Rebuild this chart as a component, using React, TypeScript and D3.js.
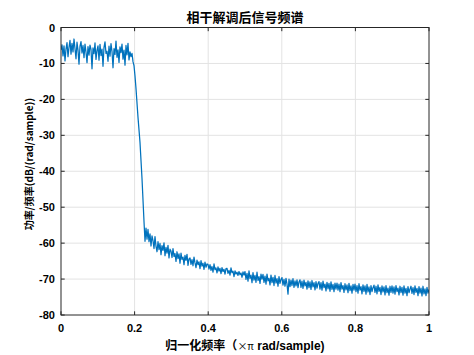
import React from "react";
import * as d3 from "d3";

// ---------- data (dB/(rad/sample)) ----------
const passband: number[] = [
  -6.2, -4.8, -7.9, -5.1, -9.3, -6.0, -4.2, -8.1, -5.5, -3.6,
  -7.4, -4.4, -6.8, -3.2, -5.9, -8.7, -4.1, -6.3, -10.2, -5.2,
  -3.9, -7.1, -5.0, -8.4, -4.6, -6.9, -9.8, -5.3, -7.7, -4.9,
  -6.1, -11.5, -5.7, -7.3, -4.3, -8.9, -6.4, -5.1, -9.1, -4.7,
  -7.8, -6.0, -10.8, -5.5, -4.0, -7.2, -6.6, -9.4, -5.2, -8.0,
  -4.5, -6.7, -11.2, -5.9, -7.5, -3.8, -8.3, -6.2, -9.7, -5.4,
  -7.0, -4.6, -8.8, -6.3, -10.5, -5.0, -7.6, -4.4, -9.0, -6.8,
  -8.1, -7.2, -9.5,
];

const transition: number[] = [
  -10.6, -13.5, -17, -21, -25, -28.5, -32, -37, -42, -48, -54, -59.5,
];

const stopband: number[] = [
  -55.8, -58.9, -56.2, -59.6, -57.4, -60.8, -58.0,
  -59.3, -61.5, -58.2, -60.9, -62.4, -59.6, -61.8, -60.1, -63.2, -60.7, -62.0, -59.9, -63.5, -61.2, -62.8, -60.6, -64.1, -61.7,
  -62.2, -64.0, -61.5, -63.7, -62.9, -65.1, -62.4, -64.3, -63.0, -65.6, -62.8, -64.5, -63.9, -66.0, -63.4, -64.8, -63.1, -66.2, -64.4,
  -64.1, -65.9, -64.6, -66.3, -63.9, -65.5, -66.8, -64.7, -66.0, -65.2, -67.1, -64.9, -66.4, -65.6, -67.3, -65.3, -66.7, -65.8,
  -65.9, -67.2, -66.0, -67.6, -66.5, -68.1, -65.8, -67.4, -66.9, -68.3, -66.6, -67.8, -67.0, -68.5, -66.8, -67.9, -67.3, -68.6, -67.1,
  -67.0, -68.4, -67.6, -68.9, -66.9, -68.2, -67.8, -69.3, -67.7, -68.6, -68.1, -69.0, -67.9, -68.8, -68.3, -69.5, -68.0, -68.9,
  -67.9, -70.1, -68.4, -70.6, -67.7, -69.8, -68.9, -71.0, -68.2, -70.3, -69.0, -70.9, -68.1, -70.4, -69.3, -71.2, -68.6, -70.0,
  -68.7, -70.9, -69.2, -71.4, -68.6, -70.5, -69.8, -71.6, -68.9, -71.0, -69.5, -71.8, -69.0, -71.1, -69.9, -72.0, -69.3, -71.2, -70.1,
  -69.6, -71.7, -70.1, -72.0, -69.8, -71.4, -74.2, -70.0, -72.1, -70.3, -71.8, -69.9, -72.3, -70.5, -71.9, -70.2, -72.4, -70.8,
  -70.2, -72.3, -70.6, -72.6, -70.3, -71.9, -70.9, -72.8, -70.5, -72.4, -70.8, -72.9, -70.4, -72.2, -71.0, -73.0, -70.7, -72.5, -71.2,
  -70.7, -72.8, -71.0, -73.1, -70.6, -72.4, -71.4, -73.3, -70.9, -72.7, -71.2, -73.4, -70.8, -72.9, -71.5, -73.5, -71.1, -72.8,
  -71.1, -73.1, -71.4, -73.5, -71.0, -72.8, -71.8, -73.7, -71.3, -73.0, -71.6, -73.8, -71.2, -73.2, -71.9, -73.9, -71.5, -73.1,
  -71.4, -73.5, -71.8, -73.9, -71.3, -73.1, -72.1, -74.1, -71.6, -73.4, -71.9, -74.2, -71.5, -73.6, -72.2, -74.3, -71.8, -73.5, -72.4,
  -71.7, -73.7, -72.0, -74.1, -71.6, -73.4, -72.3, -74.3, -71.9, -73.6, -72.2, -74.4, -71.8, -73.8, -72.5, -74.5, -72.0, -73.7,
  -71.9, -73.9, -72.2, -74.2, -71.8, -73.5, -72.5, -74.4, -72.0, -73.8, -72.3, -74.5, -71.9, -73.9, -72.6, -74.6, -72.1, -73.8, -72.8,
  -72.0, -74.0, -72.4, -74.3, -71.9, -73.7, -72.6, -74.6, -72.1, -73.9, -72.5, -74.7, -72.0, -74.1, -72.7, -74.6, -72.3, -73.9, -72.9,
];

const xTicks: number[] = [0, 0.2, 0.4, 0.6, 0.8, 1];
const xTickLabels: string[] = ["0", "0.2", "0.4", "0.6", "0.8", "1"];
const yTicks: number[] = [0, -10, -20, -30, -40, -50, -60, -70, -80];
const yTickLabels: string[] = ["0", "-10", "-20", "-30", "-40", "-50", "-60", "-70", "-80"];

const titleText = "相干解调后信号频谱";
const yLabelText = "功率/频率(dB/(rad/sample))";

// ---------- layout ----------
const W = 474;
const H = 355;
const left = 61;
const right = 429;
const top = 27.5;
const bottom = 315;

export default function App() {
  const psd = [...passband, ...transition, ...stopband];
  const n = psd.length;
  const x = d3.scaleLinear().domain([0, 1]).range([left, right]);
  const y = d3.scaleLinear().domain([-80, 0]).range([bottom, top]);
  const line = d3
    .line<number>()
    .x((_, i) => x(i / (n - 1)))
    .y((d) => y(d));

  const axisColor = "#262626";
  const gridColor = "#e3e3e3";
  const tickFont = "'Liberation Sans', Arial, sans-serif";
  const cjkFont = "'Noto Sans CJK SC', 'Liberation Sans', sans-serif";
  const tickLen = 3.7;

  return (
    <svg
      width={W}
      height={H}
      style={{ position: "absolute", left: 0, top: 0, background: "#fff" }}
    >
      <rect x={0} y={0} width={W} height={H} fill="#fff" />
      {/* grid */}
      {xTicks.slice(1, -1).map((t) => (
        <line key={"gx" + t} x1={x(t)} x2={x(t)} y1={top} y2={bottom} stroke={gridColor} strokeWidth={1} />
      ))}
      {yTicks.slice(1, -1).map((t) => (
        <line key={"gy" + t} x1={left} x2={right} y1={y(t)} y2={y(t)} stroke={gridColor} strokeWidth={1} />
      ))}
      {/* data */}
      <clipPath id="plotclip">
        <rect x={left} y={top} width={right - left} height={bottom - top} />
      </clipPath>
      <path
        d={line(psd) || ""}
        fill="none"
        stroke="#0072BD"
        strokeWidth={1.25}
        strokeLinejoin="round"
        clipPath="url(#plotclip)"
      />
      {/* box */}
      <rect x={left} y={top} width={right - left} height={bottom - top} fill="none" stroke={axisColor} strokeWidth={1} />
      {/* ticks */}
      {xTicks.map((t) => (
        <g key={"tx" + t}>
          <line x1={x(t)} x2={x(t)} y1={bottom} y2={bottom - tickLen} stroke={axisColor} />
          <line x1={x(t)} x2={x(t)} y1={top} y2={top + tickLen} stroke={axisColor} />
        </g>
      ))}
      {yTicks.map((t) => (
        <g key={"ty" + t}>
          <line x1={left} x2={left + tickLen} y1={y(t)} y2={y(t)} stroke={axisColor} />
          <line x1={right} x2={right - tickLen} y1={y(t)} y2={y(t)} stroke={axisColor} />
        </g>
      ))}
      {/* tick labels */}
      {xTicks.map((t, i) => (
        <text
          key={"lx" + t}
          x={x(t)}
          y={332}
          textAnchor="middle"
          fontFamily={tickFont}
          fontWeight="bold"
          fontSize={11}
          fill="#000"
        >
          {xTickLabels[i]}
        </text>
      ))}
      {yTicks.map((t, i) => (
        <text
          key={"ly" + t}
          x={55}
          y={y(t) + 4}
          textAnchor="end"
          fontFamily={tickFont}
          fontWeight="bold"
          fontSize={11}
          fill="#000"
        >
          {yTickLabels[i]}
        </text>
      ))}
      {/* title */}
      <text
        x={(left + right) / 2}
        y={22}
        textAnchor="middle"
        fontFamily={cjkFont}
        fontWeight="bold"
        fontSize={13}
        fill="#000"
      >
        {titleText}
      </text>
      {/* x label */}
      <text
        x={(left + right) / 2}
        y={350}
        textAnchor="middle"
        fontFamily={cjkFont}
        fontWeight="bold"
        fontSize={12}
        fill="#000"
      >
        <tspan>归一化频率（</tspan>
        <tspan fontWeight="normal" fontSize={10}>×π</tspan>
        <tspan fontFamily={tickFont}> rad/sample)</tspan>
      </text>
      {/* y label */}
      <text
        transform={`translate(33, 164) rotate(-90)`}
        textAnchor="middle"
        fontFamily={cjkFont}
        fontWeight="bold"
        fontSize={10}
        fill="#000"
      >
        {yLabelText}
      </text>
    </svg>
  );
}
